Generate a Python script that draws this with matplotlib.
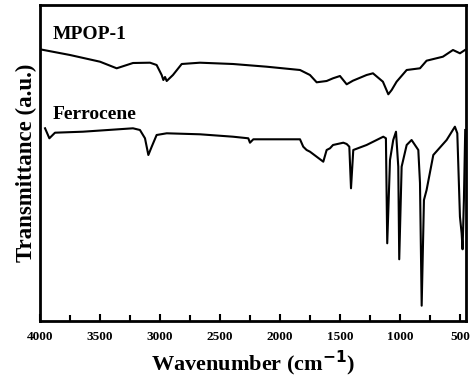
import matplotlib
matplotlib.use('Agg')
import matplotlib.pyplot as plt

# wavenumber (cm-1) / transmittance (a.u.)
mpop_wn = [4000, 3750, 3500, 3361, 3225, 3083, 3028, 2986, 2972, 2958, 2944, 2892, 2819,
           2667, 2392, 2111, 1833, 1750, 1694, 1611, 1558, 1500, 1444, 1392, 1278, 1225,
           1142, 1097, 1069, 1028, 944, 833, 778, 642, 558, 500, 458]
mpop_t = [271.7, 266, 259.3, 252.7, 258, 258.3, 256, 246, 241, 244, 240, 246, 257,
          258.3, 257, 254.3, 251, 246, 238.7, 240, 242.7, 245, 236.7, 240.3, 246, 247.7,
          239.3, 226.7, 231, 239.3, 251, 252.7, 260.3, 264.3, 271, 267.7, 271]

ferro_wn = [3958, 3922, 3875, 3642, 3225, 3167, 3125, 3097, 3069, 3028, 2944, 2667, 2392,
            2264, 2250, 2222, 1833, 1806, 1778, 1750, 1639, 1611, 1583, 1558, 1472, 1444,
            1422, 1408, 1389, 1278, 1139, 1117, 1106, 1083, 1056, 1033, 1014, 1006, 986,
            944, 903, 847, 833, 819, 800, 778, 722, 611, 542, 522, 500, 486, 478, 467, 456]
ferro_t = [192.7, 182.7, 188.3, 189.3, 192.7, 191, 182.7, 166, 174.3, 186, 187.7, 186.7, 184.3,
           182.7, 178.3, 181.7, 181.7, 174.3, 171, 169.3, 159.3, 171, 172.7, 176, 178.3, 177,
           174.3, 132.7, 171, 176, 184.3, 182.7, 77.7, 161, 181, 189.3, 154.3, 61.7, 154.3,
           176, 181, 171, 138, 15.3, 121, 131, 166, 181, 194.3, 187.7, 104.3, 87.7, 71.7, 121, 191]

labels = ['MPOP-1', 'Ferrocene']

plt.rcParams['font.family'] = ['Liberation Serif', 'DejaVu Serif']
plt.rcParams['font.weight'] = 'bold'

fig = plt.figure(figsize=(4.74, 3.76), dpi=100)
ax = fig.add_axes([0.0844, 0.1463, 0.8986, 0.8404])

ax.plot(mpop_wn, mpop_t, color='black', lw=1.5)
ax.plot(ferro_wn, ferro_t, color='black', lw=1.5)

ax.text(3895, 286, labels[0], fontsize=14, fontweight='bold', va='center')
ax.text(3895, 206, labels[1], fontsize=14, fontweight='bold', va='center')

ax.set_xlim(4000, 450)
ax.set_ylim(0, 316)
ax.set_xticks([4000, 3500, 3000, 2500, 2000, 1500, 1000, 500])
ax.set_xticks([3750, 3250, 2750, 2250, 1750, 1250, 750], minor=True)
ax.set_yticks([])
ax.tick_params(axis='x', which='both', direction='in', top=False, width=1.5,
               labelsize=9.5, pad=7)
ax.tick_params(axis='x', which='major', length=5)
ax.tick_params(axis='x', which='minor', length=4)
for lab in ax.get_xticklabels():
    lab.set_fontweight('bold')
for s in ax.spines.values():
    s.set_linewidth(2)

ax.set_xlabel('Wavenumber (cm$^{\\mathbf{-1}}$)', fontsize=16, fontweight='bold', labelpad=4)
ax.set_ylabel('Transmittance (a.u.)', fontsize=16.5, fontweight='bold', labelpad=2)

fig.savefig('out.png', dpi=100)
